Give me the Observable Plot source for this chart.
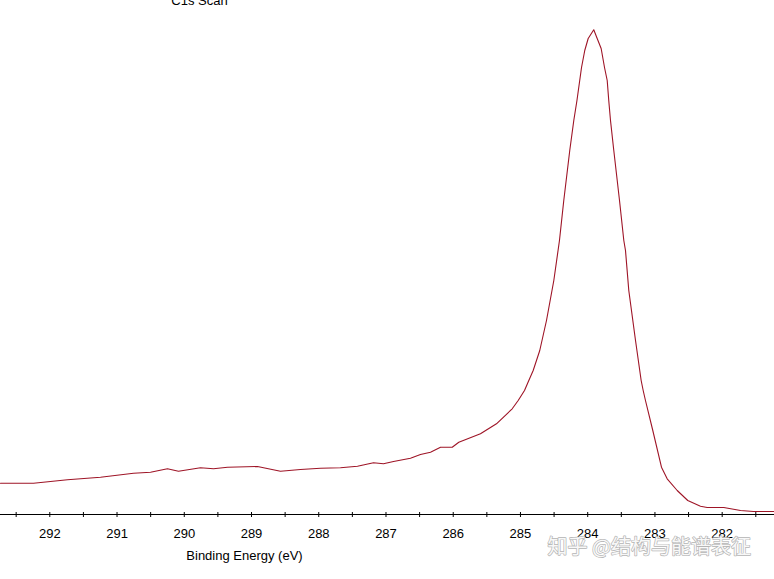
<!DOCTYPE html>
<html>
<head>
<meta charset="utf-8">
<script src="https://cdn.jsdelivr.net/npm/d3@7"></script>
<script src="https://cdn.jsdelivr.net/npm/@observablehq/plot@0.6"></script>
<style>
  html, body { margin: 0; padding: 0; background: #fff; overflow: hidden; }
  svg { display: block; }
</style>
</head>
<body>
<div id="chart"></div>
<script>
// Binding energy (eV) and intensity (counts)
const energy = [
  292.733, 292.242, 291.99, 291.737, 291.246, 290.755, 290.502, 290.25, 290.086,
  289.759, 289.565, 289.357, 288.911, 288.569, 288.272, 287.974, 287.677, 287.424,
  287.186, 287.037, 286.888, 286.636, 286.487, 286.338, 286.189, 286.015, 285.917,
  285.595, 285.357, 285.123, 285.034, 284.94, 284.876, 284.811, 284.713, 284.613,
  284.504, 284.42, 284.356, 284.267, 284.207, 284.16, 284.092, 284.044, 283.993,
  283.91, 283.859, 283.8, 283.75, 283.71, 283.687, 283.661, 283.612, 283.527,
  283.463, 283.438, 283.389, 283.289, 283.205, 283.175, 283.141, 283.032, 282.903,
  282.818, 282.669, 282.512, 282.323, 282.223, 281.976, 281.728, 281.534, 281.222
];
const counts = [
  3130, 3130, 3300, 3470, 3730, 4130, 4230, 4570, 4330,
  4670, 4570, 4730, 4800, 4330, 4500, 4630, 4670, 4830,
  5170, 5070, 5300, 5630, 6000, 6230, 6730, 6730, 7230,
  8070, 9070, 10570, 11400, 12400, 13400, 14400, 16400, 19400,
  23400, 27400, 31400, 36400, 39400, 41400, 44700, 46400, 47600,
  48470, 47600, 46600, 44700, 43400, 41400, 39400, 36400, 31400,
  27400, 26400, 22400, 17400, 13400, 12400, 11400, 8400, 4730,
  3570, 2400, 1400, 830, 700, 700, 400, 300, 300
];
const majorTicks = [292, 291, 290, 289, 288, 287, 286, 285, 284, 283, 282];
const minorTicks = [292.5, 291.5, 290.5, 289.5, 288.5, 287.5, 286.5, 285.5, 284.5, 283.5, 282.5, 281.5];
const titleText = "C1s Scan";
const xLabel = "Binding Energy (eV)";
const watermark = "知乎 @结构与能谱表征";

const data = energy.map((e, i) => ({energy: e, counts: counts[i]}));
const font = "'Liberation Sans', Arial, sans-serif";

const plot = Plot.plot({
  width: 774,
  height: 579,
  marginTop: 0,
  marginRight: 0,
  marginBottom: 65,
  marginLeft: 0,
  style: {fontFamily: font, fontSize: "13px", background: "#fff", color: "#000"},
  x: {domain: [292.733, 281.222], range: [0, 774]},
  y: {domain: [0, 51400], axis: null},
  marks: [
    Plot.ruleY([0], {stroke: "#000", strokeWidth: 1.2}),
    Plot.axisX(majorTicks, {anchor: "bottom", tickSize: 5, dy: -2, tickPadding: 11, label: null, stroke: "#000", fontSize: 13, fill: "#000"}),
    Plot.axisX(minorTicks, {anchor: "bottom", tickSize: 5, dy: -2, label: null, tickFormat: () => "", stroke: "#000"}),
    Plot.line(data, {x: "energy", y: "counts", stroke: "#9e1426", strokeWidth: 1.1}),
    Plot.text([titleText], {frameAnchor: "top-left", dx: 199, dy: 4, lineAnchor: "bottom", textAnchor: "middle", fontSize: 13, fill: "#000"}),
    Plot.text([xLabel], {frameAnchor: "bottom-left", dx: 244, dy: 41, lineAnchor: "middle", textAnchor: "middle", fontSize: 13, fill: "#000"}),
    Plot.text([watermark], {frameAnchor: "bottom-left", dx: 547, dy: 33, lineAnchor: "middle", textAnchor: "start", fontSize: 20, fill: "#f8f8f8", stroke: "#b4b4b4", strokeWidth: 1.4, fontFamily: "'Noto Sans CJK SC', sans-serif"})
  ]
});
document.getElementById("chart").appendChild(plot);
</script>
</body>
</html>
